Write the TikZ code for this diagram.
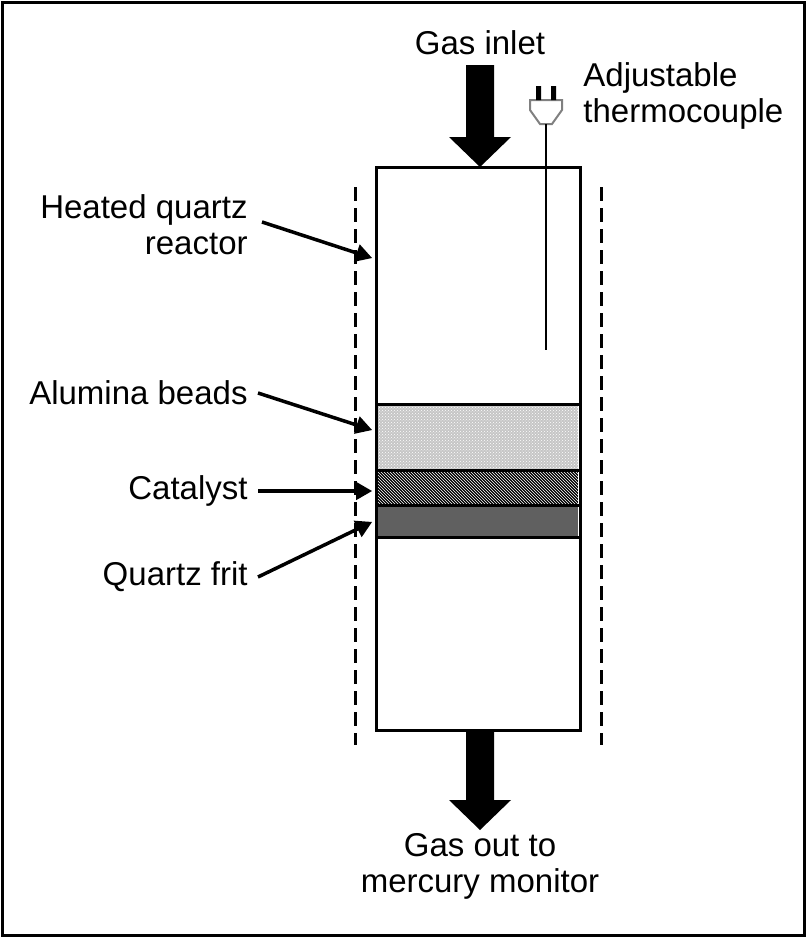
\documentclass[tikz,border=0pt]{standalone}
\usepackage{fontspec}
\setmainfont{Liberation Sans}
\usetikzlibrary{arrows,patterns}

\begin{document}
\begin{tikzpicture}[x=1pt,y=-1pt,thick,
  label text/.style={font=\fontsize{33}{36}\selectfont,inner sep=0pt},
  pointer/.style={->,>=triangle 60,line width=3.5pt},
  flow/.style={fill=black,draw=none}]
  \useasboundingbox (0,0) rectangle (806,937);
  \draw[line width=3pt] (2,2) rectangle (804,935);

  % reactor and furnace
  \draw[line width=3pt] (376,167) rectangle (580,730);
  \draw[line width=3pt,dash pattern=on 14pt off 7pt] (355,187) -- (355,745);
  \draw[line width=3pt,dash pattern=on 14pt off 7pt] (601,187) -- (601,745);

  % packed bed
  \fill[gray!45] (378,404) rectangle (578,470);
  \fill[pattern=crosshatch dots,pattern color=white] (378,404) rectangle (578,470);
  \fill[black] (378,470) rectangle (578,505);
  \fill[pattern=north west lines,pattern color=white] (378,472) rectangle (578,503);
  \fill[gray!75!black] (378,505) rectangle (578,537);
  \draw[line width=3pt] (376,404) -- (580,404) (376,470) -- (580,470)
    (376,505) -- (580,505) (376,537) -- (580,537);

  % flow arrows
  \fill[flow] (466,65) -- (494,65) -- (494,137) -- (511,137) -- (480,167)
    -- (449,137) -- (466,137) -- cycle;
  \fill[flow] (466,730) -- (494,730) -- (494,800) -- (511,800) -- (480,830)
    -- (449,800) -- (466,800) -- cycle;

  % thermocouple
  \draw[gray,line width=2pt] (530,100) -- (562,100) -- (562,110) -- (552,124)
    -- (540,124) -- (530,110) -- cycle;
  \fill[black] (536,86) rectangle (541,100) (551,86) rectangle (556,100);
  \draw[line width=2pt] (546,124) -- (546,350);

  \node[label text] (inlet) at (480,43) {Gas inlet};
  \node[label text,align=left,anchor=west] (tc) at (583,96) {Adjustable\\thermocouple};
  \node[label text,align=right,anchor=east] (heated) at (248,225) {Heated quartz\\reactor};
  \node[label text,anchor=east] (alumina) at (248,393) {Alumina beads};
  \node[label text,anchor=east] (catalyst) at (248,491) {Catalyst};
  \node[label text,anchor=east] (frit) at (248,577) {Quartz frit};
  \node[label text,align=center] (outlet) at (480,866) {Gas out to\\mercury monitor};

  \coordinate (wall1) at (372,258);
  \coordinate (wall2) at (372,430);
  \coordinate (wall3) at (372,491);
  \coordinate (wall4) at (372,522);

  \draw[pointer] ([xshift=14pt]heated.east |- 0,222) -- (wall1);
  \draw[pointer] ([xshift=10pt]alumina.east) -- (wall2);
  \draw[pointer] ([xshift=10pt]catalyst.east) -- (wall3);
  \draw[pointer] ([xshift=10pt]frit.east) -- (wall4);
\end{tikzpicture}
\end{document}
